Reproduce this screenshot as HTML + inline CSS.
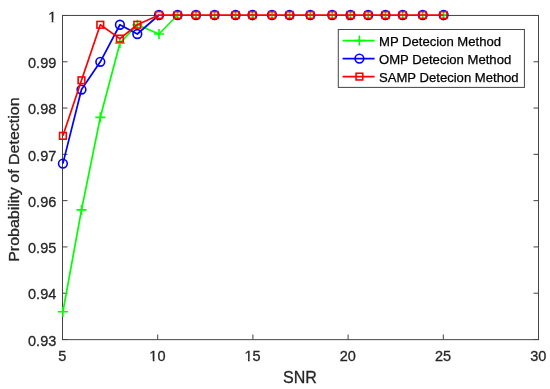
<!DOCTYPE html>
<html><head><meta charset="utf-8"><title>Probability of Detection vs SNR</title>
<style>
html,body{margin:0;padding:0;background:#fff;}
body{width:550px;height:389px;overflow:hidden;}
svg{display:block;}
text{font-family:"Liberation Sans",Arial,Helvetica,sans-serif;fill:#262626;stroke:#262626;stroke-width:0.3px;}
.tk{font-size:15.2px;}
.lb{font-size:16px;}
.lg{font-size:13.1px;fill:#000;stroke:#000;stroke-width:0.25px;}
</style></head><body>
<svg width="550" height="389" viewBox="0 0 550 389">
<rect x="0" y="0" width="550" height="389" fill="#ffffff"/>
<g stroke="#444444" stroke-width="1" fill="none">
<rect x="62.50" y="15.45" width="476.00" height="324.20"/>
<line x1="62.50" y1="339.50" x2="62.50" y2="334.50"/><line x1="62.50" y1="15.50" x2="62.50" y2="20.50"/>
<line x1="157.70" y1="339.50" x2="157.70" y2="334.50"/><line x1="157.70" y1="15.50" x2="157.70" y2="20.50"/>
<line x1="252.90" y1="339.50" x2="252.90" y2="334.50"/><line x1="252.90" y1="15.50" x2="252.90" y2="20.50"/>
<line x1="348.10" y1="339.50" x2="348.10" y2="334.50"/><line x1="348.10" y1="15.50" x2="348.10" y2="20.50"/>
<line x1="443.30" y1="339.50" x2="443.30" y2="334.50"/><line x1="443.30" y1="15.50" x2="443.30" y2="20.50"/>
<line x1="538.50" y1="339.50" x2="538.50" y2="334.50"/><line x1="538.50" y1="15.50" x2="538.50" y2="20.50"/>
<line x1="62.50" y1="339.50" x2="67.50" y2="339.50"/><line x1="538.50" y1="339.50" x2="533.50" y2="339.50"/>
<line x1="62.50" y1="293.21" x2="67.50" y2="293.21"/><line x1="538.50" y1="293.21" x2="533.50" y2="293.21"/>
<line x1="62.50" y1="246.93" x2="67.50" y2="246.93"/><line x1="538.50" y1="246.93" x2="533.50" y2="246.93"/>
<line x1="62.50" y1="200.64" x2="67.50" y2="200.64"/><line x1="538.50" y1="200.64" x2="533.50" y2="200.64"/>
<line x1="62.50" y1="154.36" x2="67.50" y2="154.36"/><line x1="538.50" y1="154.36" x2="533.50" y2="154.36"/>
<line x1="62.50" y1="108.07" x2="67.50" y2="108.07"/><line x1="538.50" y1="108.07" x2="533.50" y2="108.07"/>
<line x1="62.50" y1="61.79" x2="67.50" y2="61.79"/><line x1="538.50" y1="61.79" x2="533.50" y2="61.79"/>
<line x1="62.50" y1="15.50" x2="67.50" y2="15.50"/><line x1="538.50" y1="15.50" x2="533.50" y2="15.50"/>
</g>
<text class="tk" transform="translate(62.20,361.3) scale(0.955,1)" text-anchor="middle">5</text>
<text class="tk" transform="translate(157.40,361.3) scale(0.955,1)" text-anchor="middle">10</text>
<text class="tk" transform="translate(252.60,361.3) scale(0.955,1)" text-anchor="middle">15</text>
<text class="tk" transform="translate(347.80,361.3) scale(0.955,1)" text-anchor="middle">20</text>
<text class="tk" transform="translate(443.00,361.3) scale(0.955,1)" text-anchor="middle">25</text>
<text class="tk" transform="translate(538.20,361.3) scale(0.955,1)" text-anchor="middle">30</text>
<text class="tk" transform="translate(56.3,345.70) scale(0.955,1)" text-anchor="end">0.93</text>
<text class="tk" transform="translate(56.3,299.41) scale(0.955,1)" text-anchor="end">0.94</text>
<text class="tk" transform="translate(56.3,253.13) scale(0.955,1)" text-anchor="end">0.95</text>
<text class="tk" transform="translate(56.3,206.84) scale(0.955,1)" text-anchor="end">0.96</text>
<text class="tk" transform="translate(56.3,160.56) scale(0.955,1)" text-anchor="end">0.97</text>
<text class="tk" transform="translate(56.3,114.27) scale(0.955,1)" text-anchor="end">0.98</text>
<text class="tk" transform="translate(56.3,67.99) scale(0.955,1)" text-anchor="end">0.99</text>
<text class="tk" transform="translate(56.3,21.70) scale(0.955,1)" text-anchor="end">1</text>
<rect x="149.73" y="359.26" width="3.05" height="3.04" fill="#fff"/><rect x="154.46" y="359.26" width="2.82" height="3.04" fill="#fff"/>
<rect x="244.93" y="359.26" width="3.05" height="3.04" fill="#fff"/><rect x="249.66" y="359.26" width="2.82" height="3.04" fill="#fff"/>
<rect x="48.63" y="19.66" width="3.05" height="3.04" fill="#fff"/><rect x="53.36" y="19.66" width="2.82" height="3.04" fill="#fff"/>
<text class="lb" x="300" y="383" text-anchor="middle">SNR</text>
<text class="lb" style="font-size:15.1px" transform="translate(18.7,179.6) rotate(-90) scale(1.06,1)" text-anchor="middle">Probability of Detection</text>
<g stroke="#00ff00" fill="none">
<polyline points="62.90,311.73 81.50,209.90 100.30,117.33 119.90,43.27 137.30,24.76 159.00,34.01 177.60,15.00" stroke-width="1.70" stroke-linejoin="round"/>
<g stroke-width="1.60">
<path d="M57.90 311.73H67.90M62.90 306.73V316.73"/>
<path d="M76.50 209.90H86.50M81.50 204.90V214.90"/>
<path d="M95.30 117.33H105.30M100.30 112.33V122.33"/>
<path d="M114.90 43.27H124.90M119.90 38.27V48.27"/>
<path d="M132.30 24.76H142.30M137.30 19.76V29.76"/>
<path d="M154.00 34.01H164.00M159.00 29.01V39.01"/>
<path d="M172.60 15.00H182.60M177.60 10.00V20.00"/>
<path d="M191.00 15.00H201.00M196.00 10.00V20.00"/>
<path d="M209.60 15.00H219.60M214.60 10.00V20.00"/>
<path d="M230.60 15.00H240.60M235.60 10.00V20.00"/>
<path d="M247.40 15.00H257.40M252.40 10.00V20.00"/>
<path d="M267.00 15.00H277.00M272.00 10.00V20.00"/>
<path d="M284.60 15.00H294.60M289.60 10.00V20.00"/>
<path d="M305.30 15.00H315.30M310.30 10.00V20.00"/>
<path d="M327.20 15.00H337.20M332.20 10.00V20.00"/>
<path d="M345.50 15.00H355.50M350.50 10.00V20.00"/>
<path d="M363.20 15.00H373.20M368.20 10.00V20.00"/>
<path d="M380.50 15.00H390.50M385.50 10.00V20.00"/>
<path d="M397.70 15.00H407.70M402.70 10.00V20.00"/>
<path d="M417.70 15.00H427.70M422.70 10.00V20.00"/>
<path d="M438.60 15.00H448.60M443.60 10.00V20.00"/>
</g></g>
<g stroke="#0000ff" fill="none">
<polyline points="62.90,163.61 81.50,89.56 100.30,61.79 119.90,24.76 137.30,34.01 159.00,15.00" stroke-width="1.70" stroke-linejoin="round"/>
<g stroke-width="1.60">
<circle cx="62.90" cy="163.61" r="4.35"/>
<circle cx="81.50" cy="89.56" r="4.35"/>
<circle cx="100.30" cy="61.79" r="4.35"/>
<circle cx="119.90" cy="24.76" r="4.35"/>
<circle cx="137.30" cy="34.01" r="4.35"/>
<circle cx="159.00" cy="15.00" r="4.35"/>
<circle cx="177.60" cy="15.00" r="4.35"/>
<circle cx="196.00" cy="15.00" r="4.35"/>
<circle cx="214.60" cy="15.00" r="4.35"/>
<circle cx="235.60" cy="15.00" r="4.35"/>
<circle cx="252.40" cy="15.00" r="4.35"/>
<circle cx="272.00" cy="15.00" r="4.35"/>
<circle cx="289.60" cy="15.00" r="4.35"/>
<circle cx="310.30" cy="15.00" r="4.35"/>
<circle cx="332.20" cy="15.00" r="4.35"/>
<circle cx="350.50" cy="15.00" r="4.35"/>
<circle cx="368.20" cy="15.00" r="4.35"/>
<circle cx="385.50" cy="15.00" r="4.35"/>
<circle cx="402.70" cy="15.00" r="4.35"/>
<circle cx="422.70" cy="15.00" r="4.35"/>
<circle cx="443.60" cy="15.00" r="4.35"/>
</g></g>
<g stroke="#ff0000" fill="none">
<polyline points="62.90,135.84 81.50,80.30 100.30,24.76 119.90,38.64 137.30,24.76 159.00,15.00" stroke-width="1.70" stroke-linejoin="round"/>
<line x1="159.00" y1="15.05" x2="443.60" y2="15.05" stroke-width="1.45"/>
<g stroke-width="1.60">
<rect x="59.55" y="132.49" width="6.70" height="6.70"/>
<rect x="78.15" y="76.95" width="6.70" height="6.70"/>
<rect x="96.95" y="21.41" width="6.70" height="6.70"/>
<rect x="116.55" y="35.29" width="6.70" height="6.70"/>
<rect x="133.95" y="21.41" width="6.70" height="6.70"/>
<rect x="155.65" y="11.65" width="6.70" height="6.70"/>
<rect x="174.25" y="11.65" width="6.70" height="6.70"/>
<rect x="192.65" y="11.65" width="6.70" height="6.70"/>
<rect x="211.25" y="11.65" width="6.70" height="6.70"/>
<rect x="232.25" y="11.65" width="6.70" height="6.70"/>
<rect x="249.05" y="11.65" width="6.70" height="6.70"/>
<rect x="268.65" y="11.65" width="6.70" height="6.70"/>
<rect x="286.25" y="11.65" width="6.70" height="6.70"/>
<rect x="306.95" y="11.65" width="6.70" height="6.70"/>
<rect x="328.85" y="11.65" width="6.70" height="6.70"/>
<rect x="347.15" y="11.65" width="6.70" height="6.70"/>
<rect x="364.85" y="11.65" width="6.70" height="6.70"/>
<rect x="382.15" y="11.65" width="6.70" height="6.70"/>
<rect x="399.35" y="11.65" width="6.70" height="6.70"/>
<rect x="419.35" y="11.65" width="6.70" height="6.70"/>
<rect x="440.25" y="11.65" width="6.70" height="6.70"/>
</g></g>
<rect x="338.3" y="29.5" width="186.1" height="57.9" fill="#ffffff" stroke="#444444" stroke-width="1"/>
<g stroke="#00ff00" fill="none"><line x1="342.6" y1="40.60" x2="374.6" y2="40.60" stroke-width="1.70"/><g stroke-width="1.60"><path d="M354.40 40.60H364.40M359.40 35.60V45.60"/></g></g>
<text class="lg" x="379" y="46.00">MP Detecion Method</text>
<g stroke="#0000ff" fill="none"><line x1="342.6" y1="58.60" x2="374.6" y2="58.60" stroke-width="1.70"/><g stroke-width="1.60"><circle cx="359.40" cy="58.60" r="4.35"/></g></g>
<text class="lg" x="379" y="64.00">OMP Detecion Method</text>
<g stroke="#ff0000" fill="none"><line x1="342.6" y1="76.60" x2="374.6" y2="76.60" stroke-width="1.70"/><g stroke-width="1.60"><rect x="356.05" y="73.25" width="6.70" height="6.70"/></g></g>
<text class="lg" x="379" y="82.00">SAMP Detecion Method</text>
</svg>
</body></html>
